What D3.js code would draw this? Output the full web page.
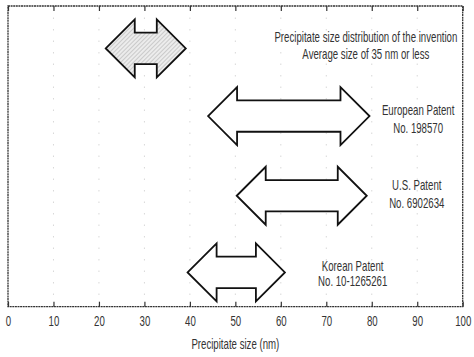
<!DOCTYPE html>
<html>
<head>
<meta charset="utf-8">
<script src="https://cdn.jsdelivr.net/npm/d3@7"></script>
<style>
  html, body { margin: 0; padding: 0; background: #fff; }
  svg { display: block; }
  text { font-family: "Liberation Sans", Arial, sans-serif; fill: #333; }
</style>
</head>
<body>
<script>
// ---- data ----
const categories = ["Invention", "European Patent", "U.S. Patent", "Korean Patent"];
const sizeMin = [21.5, 44.0, 50.3, 39.5];   // nm, left arrow tip
const sizeMax = [39.1, 79.5, 78.9, 60.9];   // nm, right arrow tip
const rowPos  = [8.59, 6.34, 3.69, 1.14];   // vertical row position (arbitrary units)
const labelLines = [
  ["Precipitate size distribution of the invention", "Average size of 35 nm or less"],
  ["European Patent", "No. 198570"],
  ["U.S. Patent", "No. 6902634"],
  ["Korean Patent", "No. 10-1265261"]
];
const xTicks = [0, 10, 20, 30, 40, 50, 60, 70, 80, 90, 100];
const xTitle = "Precipitate size (nm)";

// ---- layout ----
const W = 474, H = 357;
const plot = { left: 8, right: 462.7, top: 6, bottom: 306.7 };
const x = d3.scaleLinear().domain([0, 100]).range([plot.left, plot.right]);
const y = d3.scaleLinear().domain([0, 10]).range([plot.bottom, plot.top]);
const SX = 0.69; // horizontal text compression

const svg = d3.select("body").append("svg").attr("width", W).attr("height", H);

const defs = svg.append("defs");
const pat = defs.append("pattern").attr("id", "hatch")
  .attr("patternUnits", "userSpaceOnUse").attr("width", 3).attr("height", 3)
  .attr("patternTransform", "rotate(45)");
pat.append("rect").attr("width", 3).attr("height", 3).attr("fill", "#ececec");
pat.append("line").attr("x1", 0).attr("y1", 0).attr("x2", 0).attr("y2", 3)
  .attr("stroke", "#a8a8a8").attr("stroke-width", 1);

// faint vertical grid
svg.append("g").selectAll("line").data(xTicks.slice(1, -1)).join("line")
  .attr("x1", d => x(d)).attr("x2", d => x(d))
  .attr("y1", plot.top).attr("y2", plot.bottom)
  .attr("stroke", "#d8d8d8").attr("stroke-width", 1)
  .attr("stroke-dasharray", "1.5,10");

// frame
svg.append("rect")
  .attr("x", plot.left).attr("y", plot.top)
  .attr("width", plot.right - plot.left).attr("height", plot.bottom - plot.top)
  .attr("fill", "none").attr("stroke", "#333").attr("stroke-width", 1.3)
  .attr("stroke-dasharray", "2,0.6");

// axes (inward ticks)
const bottomAxis = d3.axisBottom(x).tickValues(xTicks).tickSizeInner(-5).tickSizeOuter(0).tickPadding(10);
const gB = svg.append("g").attr("transform", `translate(0,${plot.bottom})`).call(bottomAxis);
gB.select(".domain").remove();
gB.selectAll(".tick line").attr("stroke", "#333").attr("stroke-width", 1.2);
gB.selectAll(".tick text").each(function(d) {
  const t = d3.select(this);
  t.attr("x", null).attr("y", null).attr("dy", null)
   .attr("text-anchor", "middle")
   .attr("transform", `translate(0,19.3) scale(${SX},1)`)
   .style("font-size", "14px").style("font-family", '"Liberation Sans", Arial, sans-serif')
   .attr("fill", "#333");
});
const topAxis = d3.axisTop(x).tickValues(xTicks).tickSizeInner(-5).tickSizeOuter(0).tickFormat("");
const gT = svg.append("g").attr("transform", `translate(0,${plot.top})`).call(topAxis);
gT.select(".domain").remove();
gT.selectAll(".tick line").attr("stroke", "#333").attr("stroke-width", 1.2);

// axis title
svg.append("text")
  .attr("transform", `translate(${x(50)},349) scale(${SX},1)`)
  .attr("text-anchor", "middle").style("font-size", "14px").text(xTitle);

// arrows
const HEAD = 29, HALF_H = 29, HALF_S = 15.7;
function arrowPath(lo, hi, row) {
  const lx = x(lo), rx = x(hi), cy = y(row);
  const pts = [
    [lx, cy], [lx + HEAD, cy - HALF_H], [lx + HEAD, cy - HALF_S],
    [rx - HEAD, cy - HALF_S], [rx - HEAD, cy - HALF_H], [rx, cy],
    [rx - HEAD, cy + HALF_H], [rx - HEAD, cy + HALF_S],
    [lx + HEAD, cy + HALF_S], [lx + HEAD, cy + HALF_H]
  ];
  return d3.line()(pts) + "Z";
}
const rows = categories.map((c, i) => ({ c, lo: sizeMin[i], hi: sizeMax[i], row: rowPos[i], lines: labelLines[i], i }));
svg.append("g").selectAll("path").data(rows).join("path")
  .attr("d", d => arrowPath(d.lo, d.hi, d.row))
  .attr("fill", d => d.i === 0 ? "url(#hatch)" : "#fff")
  .attr("stroke", "#111").attr("stroke-width", 1.8)
  .attr("stroke-linejoin", "miter");

// labels (annotation placement)
const labelX = [78.7, 90.2, 89.9, 75.8];          // nm, label centre
const labelBase = [[41.7, 59], [115, 133], [190, 208], [270.5, 286]]; // px baselines
rows.forEach(d => {
  d.lines.forEach((ln, k) => {
    svg.append("text")
      .attr("transform", `translate(${x(labelX[d.i])},${labelBase[d.i][k]}) scale(${SX},1)`)
      .attr("text-anchor", "middle").style("font-size", "14px").text(ln);
  });
});
</script>
</body>
</html>
